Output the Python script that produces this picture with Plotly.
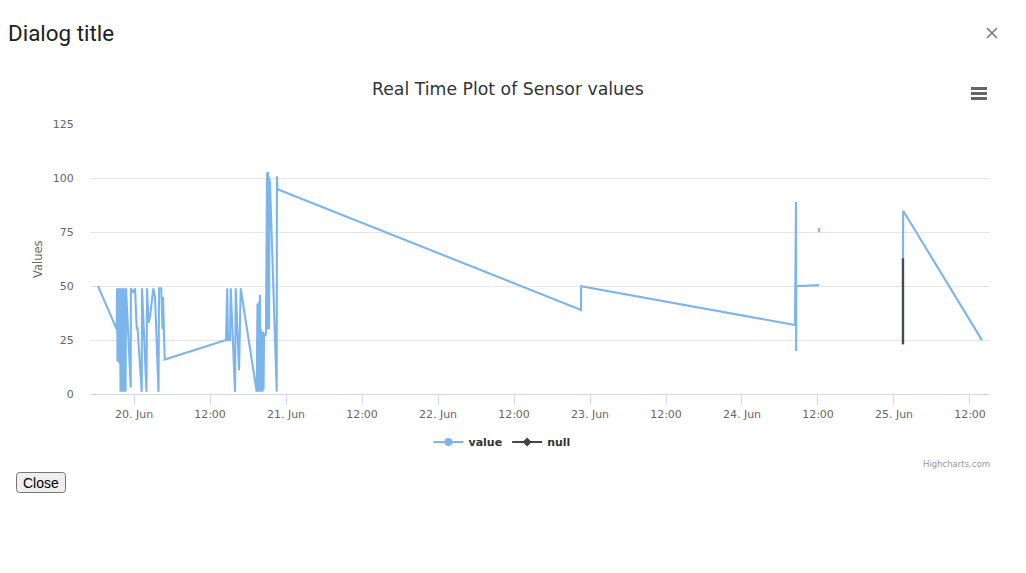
import plotly.graph_objects as go
import pandas as pd

W = 1026
H = 573
ML, MR, MT, MB = 10, 10, 40, 40

# hours counted from 19 Jun 00:00
value_hours = [18.32, 21.27, 21.32, 21.39, 21.47, 21.55, 21.63, 21.71, 21.79, 21.87, 21.95, 22.03,
               22.11, 22.18, 22.26, 22.34, 22.42, 22.50, 22.58, 22.66, 22.74, 23.48, 23.50, 23.89,
               24.16, 24.43, 24.55, 25.22, 25.26, 25.97, 26.05, 26.29, 26.53, 27.05, 27.32, 27.87,
               27.95, 28.30, 28.50, 28.58, 28.85,
               38.53, 38.72, 38.84, 39.16, 39.27, 39.95, 40.06, 40.58, 40.74, 40.85, 43.37,
               43.50, 43.58, 43.74, 43.82, 43.89, 43.97, 44.05, 44.13, 44.21, 44.29, 44.37, 44.45,
               44.53, 44.76, 44.84, 45.00, 45.16, 45.19, 45.25, 45.32, 45.38, 45.44, 45.47, 46.53, 46.56, 46.66,
               94.58, 94.60, 128.37, 128.53, 128.55, 128.57, 132.16, 132.165, 132.17, 132.20, 132.21,
               145.42, 145.45, 157.89]
values = [50, 30, 49, 15, 49, 15, 49, 14, 49, 1, 49, 1,
          49, 1, 49, 1, 49, 1, 49, 1, 49, 3, 49, 47,
          49, 30, 31, 1, 49, 1, 49, 33, 36, 49, 45, 1,
          49, 49, 30, 45, 16,
          25, 49, 25, 25, 49, 1, 49, 11, 49, 49, 1,
          42, 1, 43, 1, 46, 1, 30, 1, 29, 1, 29, 2,
          28, 27, 29, 102, 103, 30, 101, 30, 100, 40, 98, 1, 101, 95,
          39, 50, 32, 89, 20, 50, 50.5, None, 75, 77, None,
          63, 85, 25]

null_hours = [145.42, 145.42]
null_values = [63, 23]

tick_hours = [24, 36, 48, 60, 72, 84, 96, 108, 120, 132, 144, 156]
tick_labels = ["20. Jun", "12:00", "21. Jun", "12:00", "22. Jun", "12:00",
               "23. Jun", "12:00", "24. Jun", "12:00", "25. Jun", "12:00"]
y_ticks = [0, 25, 50, 75, 100, 125]

start = pd.Timestamp("2019-06-19")


def to_dates(hours):
    return [start + pd.Timedelta(hours=h) for h in hours]


# page pixels to paper fractions
def px(x):
    return (x - ML) / (W - ML - MR)


def py(y):
    return 1 - (y - MT) / (H - MT - MB)


def rounded_rect(x0, y0, x1, y1, r):
    return (f"M {px(x0 + r)} {py(y0)} L {px(x1 - r)} {py(y0)} Q {px(x1)} {py(y0)} {px(x1)} {py(y0 + r)} "
            f"L {px(x1)} {py(y1 - r)} Q {px(x1)} {py(y1)} {px(x1 - r)} {py(y1)} "
            f"L {px(x0 + r)} {py(y1)} Q {px(x0)} {py(y1)} {px(x0)} {py(y1 - r)} "
            f"L {px(x0)} {py(y0 + r)} Q {px(x0)} {py(y0)} {px(x0 + r)} {py(y0)} Z")


fig = go.Figure()
fig.add_trace(go.Scatter(x=to_dates(value_hours), y=values, mode="lines", showlegend=False,
                         line=dict(color="#7cb5ec", width=2.1), connectgaps=False))
fig.add_trace(go.Scatter(x=to_dates(null_hours), y=null_values, mode="lines", showlegend=False,
                         line=dict(color="#3f4c5c", width=2.4)))
# legend entries with markers, the drawn lines have none
fig.add_trace(go.Scatter(x=[None], y=[None], mode="lines+markers", name="<b>value</b>",
                         line=dict(color="#7cb5ec", width=2), marker=dict(symbol="circle", size=8)))
fig.add_trace(go.Scatter(x=[None], y=[None], mode="lines+markers", name="<b>null</b>",
                         line=dict(color="#434348", width=2), marker=dict(symbol="diamond", size=7)))

shapes = [
    # close cross
    dict(type="line", x0=px(987), y0=py(28), x1=px(997), y1=py(38), line=dict(color="#757575", width=1.5)),
    dict(type="line", x0=px(987), y0=py(38), x1=px(997), y1=py(28), line=dict(color="#757575", width=1.5)),
    # menu icon
    dict(type="line", x0=px(971), y0=py(88.5), x1=px(987), y1=py(88.5), line=dict(color="#666666", width=3)),
    dict(type="line", x0=px(971), y0=py(93.5), x1=px(987), y1=py(93.5), line=dict(color="#666666", width=3)),
    dict(type="line", x0=px(971), y0=py(98.5), x1=px(987), y1=py(98.5), line=dict(color="#666666", width=3)),
    # close button
    dict(type="path", path=rounded_rect(16.5, 472.5, 65.5, 492.5, 3),
         fillcolor="#efefef", line=dict(color="#767676", width=1)),
]
for s in shapes:
    s["xref"] = "paper"
    s["yref"] = "paper"

annotations = [
    dict(text="Dialog title", x=px(6), y=py(33), xanchor="left",
         font=dict(family="Roboto", size=22.4, color="#212121")),
    dict(text="Real Time Plot of Sensor values", x=px(508), y=py(89),
         font=dict(family="DejaVu Sans", size=17.3, color="#333333")),
    dict(text="Values", x=px(38), y=py(259), textangle=-90,
         font=dict(family="DejaVu Sans", size=11.5, color="#666666")),
    dict(text="Highcharts.com", x=px(991.5), y=py(464), xanchor="right",
         font=dict(family="DejaVu Sans", size=8.5, color="#999999")),
    dict(text="Close", x=px(41), y=py(482.5),
         font=dict(family="Liberation Sans", size=14, color="#000000")),
]
for a in annotations:
    a["xref"] = "paper"
    a["yref"] = "paper"
    a["showarrow"] = False
    a["yanchor"] = "middle"
    a.setdefault("xanchor", "center")

fig.update_layout(
    width=W, height=H,
    margin=dict(l=ML, r=MR, t=MT, b=MB),
    paper_bgcolor="white", plot_bgcolor="white",
    font=dict(family="DejaVu Sans", size=11, color="#666666"),
    shapes=shapes, annotations=annotations,
    legend=dict(orientation="h", x=px(502), y=py(442), xanchor="center", yanchor="middle",
                font=dict(family="DejaVu Sans", size=11, color="#333333"), itemwidth=30),
    xaxis=dict(domain=[px(90), px(990)], range=to_dates([17.05, 159.16]),
               tickvals=to_dates(tick_hours), ticktext=tick_labels,
               showgrid=False, showline=True, linecolor="#ccd6eb", linewidth=1,
               ticks="outside", ticklen=10, tickcolor="#ccd6eb", tickwidth=1, zeroline=False),
    yaxis=dict(domain=[py(394), py(124.5)], range=[0, 125], tickvals=y_ticks,
               gridcolor="#e6e6e6", gridwidth=1, showline=False, zeroline=False,
               ticks="outside", ticklen=13, tickcolor="rgba(0,0,0,0)"),
)

# the page's default body margin would shift everything by 8px
fig.write_html("out.html", config=dict(displayModeBar=False),
               post_script="document.body.style.margin='0';")
